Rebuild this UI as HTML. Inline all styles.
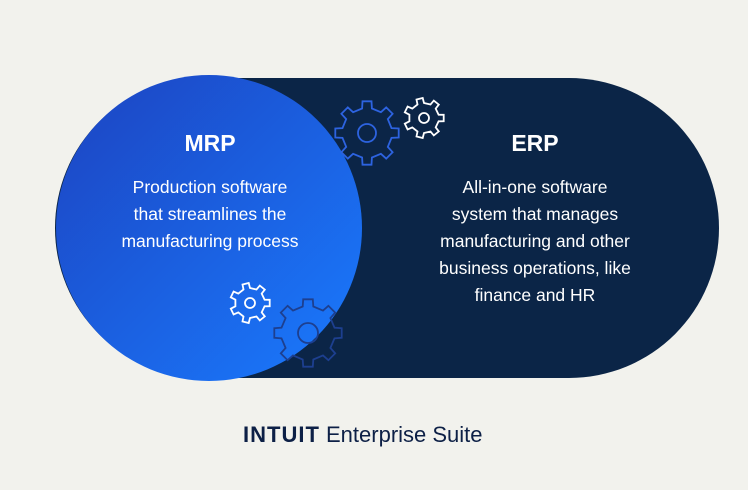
<!DOCTYPE html>
<html><head><style>
html,body{margin:0;padding:0;background:#f2f2ed;}
body{width:748px;height:490px;position:relative;overflow:hidden;font-family:"Liberation Sans",sans-serif;}
svg{position:absolute;left:0;top:0;}
.t{position:absolute;color:#fff;text-align:center;}
.h{font-weight:bold;font-size:23px;}
.b{font-size:17.5px;line-height:27px;}
.logo{position:absolute;left:243px;top:422px;font-size:22px;color:#0d2046;white-space:nowrap;}
</style></head><body>
<svg width="748" height="490" viewBox="0 0 748 490">
<defs>
<linearGradient id="g" x1="0" y1="0" x2="1" y2="1">
<stop offset="0" stop-color="#1c43c0"/><stop offset="1" stop-color="#1a7bff"/>
</linearGradient>
</defs>
<rect x="55" y="78" width="664" height="300" rx="150" fill="#0b2547"/>
<circle cx="209" cy="228" r="153" fill="url(#g)"/>
<g id="gears" fill="none" stroke-width="1.8"></g>
</svg>
<div class="t h" style="left:110px;top:130px;width:200px;">MRP</div>
<div class="t b" style="left:90px;top:174px;width:240px;">Production software<br>that streamlines the<br>manufacturing process</div>
<div class="t h" style="left:435px;top:130px;width:200px;">ERP</div>
<div class="t b" style="left:405px;top:174px;width:260px;">All-in-one software<br>system that manages<br>manufacturing and other<br>business operations, like<br>finance and HR</div>
<div class="logo"><b style="letter-spacing:1px">INTUIT</b> Enterprise Suite</div>
<script>
function gear(cx,cy,R,r,n,hole,col){
 var d="",step=Math.PI*2/n;
 for(var i=0;i<n;i++){
  var a=i*step,pts=[[a-step*0.25,r],[a-step*0.18,R],[a+step*0.18,R],[a+step*0.25,r]];
  pts.forEach(function(p,j){d+=(i==0&&j==0?"M":"L")+(cx+p[1]*Math.cos(p[0])).toFixed(1)+","+(cy+p[1]*Math.sin(p[0])).toFixed(1);});
 }
 d+="Z";
 var g=document.getElementById("gears");
 g.innerHTML+='<path d="'+d+'" stroke="'+col+'"/><circle cx="'+cx+'" cy="'+cy+'" r="'+hole+'" stroke="'+col+'"/>';
}
gear(367,133,32,25,8,9,"#2d63e0");
gear(424,118,20,15,7,5,"#ffffff");
gear(250,303,20,15,7,5,"#ffffff");
gear(308,333,34,27,8,10,"#1d3f8f");
</script>
</body></html>
